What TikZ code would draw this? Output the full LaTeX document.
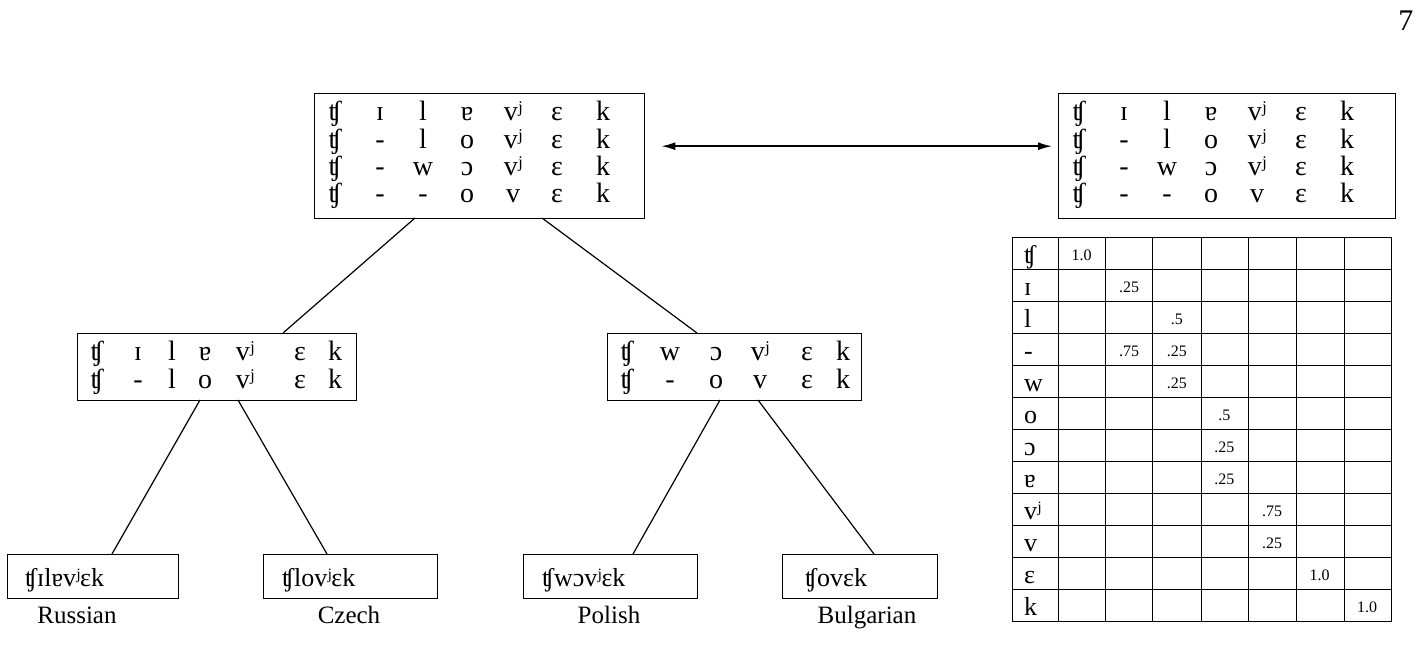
\documentclass[tikz,border=0pt]{standalone}
\usepackage{fontspec}
\setmainfont{Liberation Serif}
\usetikzlibrary{calc,arrows.meta}
\begin{document}
\begin{tikzpicture}[x=1pt,y=-1pt,
  box/.style={draw,line width=1.4pt,inner sep=0pt,anchor=north west},
  ipa/.style={font=\fontsize{28}{28}\selectfont,inner sep=0pt,anchor=base},
  leaf/.style={font=\fontsize{26}{26}\selectfont,inner sep=0pt,anchor=base west},
  lab/.style={font=\fontsize{25}{25}\selectfont,inner sep=0pt,anchor=base},
  num/.style={font=\fontsize{16}{16}\selectfont,inner sep=0pt,anchor=base},
  edge/.style={line width=1.2pt}]
\useasboundingbox (0,0) rectangle (1417,648);
\node[font=\fontsize{30}{30}\selectfont,anchor=base east] (pg) at (1417,30) {7};
% top boxes
\node[box,minimum width=330,minimum height=125] (top) at (314,93) {};
\node[box,minimum width=337,minimum height=125] (tr) at (1058,93) {};
\foreach \dx/\bx in {0/top,744/tr}{
\foreach \r/\y in {1/120,2/148,3/175,4/202}{
  \node[ipa] at (335+\dx,\y) {ʧ};
  \node[ipa] at (603+\dx,\y) {k};
  \node[ipa] at (557+\dx,\y) {ɛ};
}
\node[ipa] at (380+\dx,120) {ɪ}; \node[ipa] at (380+\dx,148) {-};
\node[ipa] at (380+\dx,175) {-}; \node[ipa] at (380+\dx,202) {-};
\node[ipa] at (423+\dx,120) {l}; \node[ipa] at (423+\dx,148) {l};
\node[ipa] at (423+\dx,175) {w}; \node[ipa] at (423+\dx,202) {-};
\node[ipa] at (467+\dx,120) {ɐ}; \node[ipa] at (467+\dx,148) {o};
\node[ipa] at (467+\dx,175) {ɔ}; \node[ipa] at (467+\dx,202) {o};
\node[ipa] at (513+\dx,120) {vʲ}; \node[ipa] at (513+\dx,148) {vʲ};
\node[ipa] at (513+\dx,175) {vʲ}; \node[ipa] at (513+\dx,202) {v};
}
\coordinate (a1) at ($(top.east)+(16,-10)$);
\coordinate (a2) at ($(tr.west)+(-6,-10)$);
\draw[edge,line width=1.6pt,{Latex[length=14pt,width=8pt]}-{Latex[length=14pt,width=8pt]}] (a1) -- (a2);
% middle boxes
\node[box,minimum width=279,minimum height=67] (ml) at (77,333) {};
\node[box,minimum width=254,minimum height=67] (mr) at (607,333) {};
\foreach \x/\a/\b in {97/ʧ/ʧ,138/ɪ/-,172/l/l,205/ɐ/o,245/vʲ/vʲ,300/ɛ/ɛ,335/k/k}{
  \node[ipa] at (\x,360) {\a}; \node[ipa] at (\x,388) {\b};}
\foreach \x/\a/\b in {627/ʧ/ʧ,670/w/-,716/ɔ/o,760/vʲ/v,807/ɛ/ɛ,843/k/k}{
  \node[ipa] at (\x,360) {\a}; \node[ipa] at (\x,388) {\b};}
% leaves
\node[box,minimum width=171,minimum height=44] (ru) at (7,554) {};
\node[box,minimum width=174,minimum height=44] (cz) at (263,554) {};
\node[box,minimum width=174,minimum height=44] (pl) at (523,554) {};
\node[box,minimum width=155,minimum height=44] (bg) at (782,554) {};
\node[leaf] at (25,586) {ʧɪlɐvʲɛk};
\node[leaf] at (282,586) {ʧlovʲɛk};
\node[leaf] at (542,586) {ʧwɔvʲɛk};
\node[leaf] at (805,586) {ʧovɛk};
\node[lab] (lru) at (77,623) {Russian};
\node[lab] (lcz) at (349,623) {Czech};
\node[lab] (lpl) at (609,623) {Polish};
\node[lab] (lbg) at (867,623) {Bulgarian};
% edges
\coordinate (t1) at (415,218); \coordinate (t2) at (542,218);
\coordinate (m1) at (283,333); \coordinate (m2) at (697,333);
\coordinate (l1) at (200,400); \coordinate (l2) at (238,400);
\coordinate (r1) at (720,400); \coordinate (r2) at (758,400);
\coordinate (ru1) at (112,554); \coordinate (cz1) at (327,554);
\coordinate (pl1) at (633,554); \coordinate (bg1) at (874,554);
\draw[edge] (t1)--(m1); \draw[edge] (t2)--(m2);
\draw[edge] (l1)--(ru1); \draw[edge] (l2)--(cz1);
\draw[edge] (r1)--(pl1); \draw[edge] (r2)--(bg1);
% table
\node[draw,line width=1.2pt,minimum width=379,minimum height=384,inner sep=0pt,anchor=north west] (tab) at (1012,237) {};
\foreach \i in {1,...,11} \draw[line width=1pt] (1012,237+32*\i) -- (1391,237+32*\i);
\foreach \x in {1058,1105,1152,1201,1248,1296,1344} \draw[line width=1pt] (\x,237) -- (\x,621);
\foreach \i/\s in {0/ʧ,1/ɪ,2/l,3/-,4/w,5/o,6/ɔ,7/ɐ,8/vʲ,9/v,10/ɛ,11/k}
  \node[ipa,anchor=base west,font=\fontsize{26}{26}\selectfont] at (1024,263+32*\i) {\s};
\foreach \c/\r/\v in {1/0/1.0,2/1/.25,3/2/.5,2/3/.75,3/3/.25,3/4/.25,4/5/.5,4/6/.25,4/7/.25,5/8/.75,5/9/.25,6/10/1.0,7/11/1.0}
  \node[num] at (1058+47.6*\c-24,260+32*\r) {\v};
\end{tikzpicture}
\end{document}
